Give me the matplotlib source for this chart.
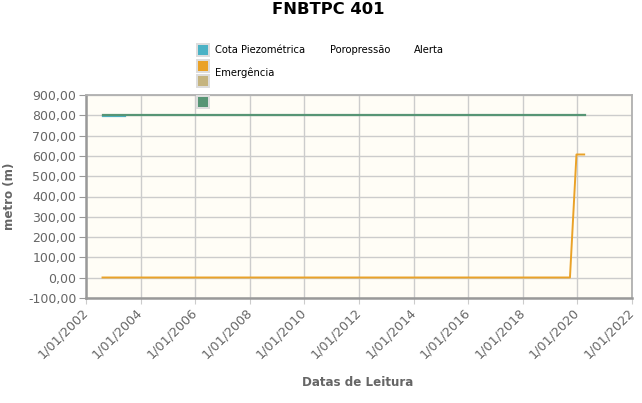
import datetime as dt
import matplotlib
matplotlib.use("Agg")
import matplotlib.pyplot as plt
import matplotlib.dates as mdates
from matplotlib.patches import Rectangle
from matplotlib.ticker import FuncFormatter

# --- Data ---
cota_dates = [dt.date(2002, 8, 10), dt.date(2003, 6, 5)]
cota_values = [797, 797]

alerta_dates = [dt.date(2002, 8, 10), dt.date(2020, 4, 12)]
alerta_values = [803, 803]

emerg_dates = [dt.date(2002, 8, 10), dt.date(2019, 9, 24),
               dt.date(2019, 12, 20), dt.date(2020, 4, 1)]
emerg_values = [1, 1, 607, 607]

legend_labels = ["Cota Piezométrica", "Poropressão", "Alerta", "Emergência"]
tick_years = list(range(2002, 2023, 2))

# --- Colours ---
C_BLUE = "#4bb2c5"
C_ORANGE = "#eaa228"
C_TAN = "#c5b47f"
C_GREEN = "#579575"
C_TEXT = "#666666"
C_GRID = "#cccccc"
C_BG = "#fffdf6"

W, H = 642, 403
plt.rcParams["font.family"] = ["DejaVu Sans"]
fig = plt.figure(figsize=(W / 100, H / 100), dpi=100)

left, right, top, bottom = 86, 632, 95, 298
ax = fig.add_axes([left / W, (H - bottom) / H, (right - left) / W, (bottom - top) / H])
ax.set_facecolor(C_BG)

ax.plot(alerta_dates, alerta_values, color=C_GREEN, lw=1.6, zorder=3)
ax.plot(cota_dates, cota_values, color=C_BLUE, lw=1.6, zorder=2)
ax.plot(emerg_dates, emerg_values, color=C_ORANGE, lw=1.4, zorder=3)

ax.set_xlim(dt.date(2002, 1, 1), dt.date(2022, 1, 1))
ax.set_ylim(-100, 900)
ax.set_xticks([dt.date(y, 1, 1) for y in tick_years])
ax.xaxis.set_major_formatter(mdates.DateFormatter("1/%m/%Y"))
ax.set_yticks(range(-100, 901, 100))
ax.yaxis.set_major_formatter(FuncFormatter(lambda v, p: f"{v:.2f}".replace(".", ",")))

ax.grid(True, color=C_GRID, lw=1)
ax.set_axisbelow(True)
for name, s in ax.spines.items():
    s.set_color("#999999" if name in ("left", "bottom") else "#b0b0b0")
    s.set_linewidth(1.8 if name in ("left", "bottom") else 1.3)

ax.tick_params(axis="y", colors="#999999", labelcolor=C_TEXT, labelsize=9, length=5, pad=2)
ax.tick_params(axis="x", colors="#cccccc", labelcolor=C_TEXT, labelsize=9.2, length=4, pad=5)
for lbl in ax.get_xticklabels():
    lbl.set_rotation(45)
    lbl.set_ha("right")
    lbl.set_va("center")
    lbl.set_rotation_mode("anchor")

fig.text(10 / W, 1 - 196 / H, "metro (m)", rotation=90, ha="center", va="center",
         color=C_TEXT, fontsize=8.6, fontweight="bold")
fig.text(358 / W, 1 - 383 / H, "Datas de Leitura", ha="center", va="center",
         color=C_TEXT, fontsize=8.6, fontweight="bold")
fig.text(328 / W, 1 - 10 / H, "FNBTPC 401", ha="center", va="center",
         fontsize=11.8, fontweight="bold", color="black")

# --- Legend (as laid out in the original) ---
swatches = [(C_BLUE, 45), (C_ORANGE, 61), (C_TAN, 76), (C_GREEN, 97)]
for color, y in swatches:
    fig.patches.append(Rectangle((196 / W, 1 - (y + 12) / H), 14 / W, 14 / H,
                                 transform=fig.transFigure, facecolor="#dddddd",
                                 edgecolor="none", zorder=5))
    fig.patches.append(Rectangle((198 / W, 1 - (y + 10) / H), 10 / W, 10 / H,
                                 transform=fig.transFigure, facecolor=color,
                                 edgecolor="none", zorder=6))
text_pos = [(215, 50), (330, 50), (414, 50), (215, 73)]
for (x, y), label in zip(text_pos, legend_labels):
    fig.text(x / W, 1 - y / H, label, ha="left", va="center", fontsize=7.2, color="black")

fig.savefig("out.png", dpi=100)
